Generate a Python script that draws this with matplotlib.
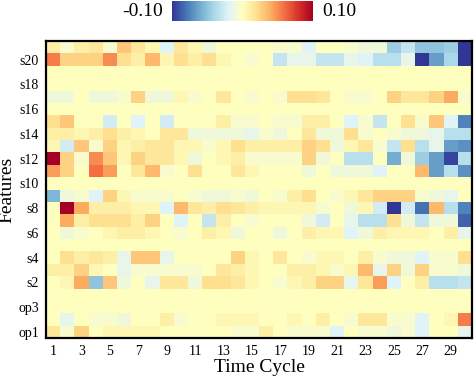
import matplotlib
matplotlib.use("Agg")
import matplotlib.pyplot as plt
import numpy as np

plt.rcParams["font.family"] = ["Liberation Serif", "DejaVu Serif"]

features = ["op1", "op2", "op3"] + ["s%d" % i for i in range(1, 22)]
cycles = list(range(1, 31))

op1 = [0.015, -0.005, 0.025, 0, 0.005, 0.005, 0.005, 0.005, 0, 0, 0, 0, 0, -0.005, -0.005,
       0.01, 0, -0.005, -0.005, -0.005, -0.02, 0, -0.005, -0.005, -0.01, -0.005, -0.02, 0, 0, -0.015]
op2 = [0, -0.015, 0, -0.005, -0.005, -0.01, 0, 0, 0.01, -0.005, 0, 0, 0.005, 0.005, 0.005,
       0, 0, 0.005, 0, 0.01, 0, -0.005, 0.015, 0.015, -0.005, -0.005, -0.02, 0, 0.005, 0.055]
op3 = [0] * 30
s1 = [0] * 30
s2 = [0, 0.005, 0.04, -0.05, 0.03, -0.01, 0, -0.015, 0.015, 0.015, -0.01, 0.02, 0.02, 0.015, 0.005,
      0, -0.005, 0.005, 0.01, 0.025, 0.025, -0.015, 0.015, 0.045, -0.02, 0, 0.01, -0.035, -0.035, -0.03]
s3 = [0.01, 0.01, 0.025, 0.005, 0, -0.015, -0.005, -0.005, -0.005, -0.005, -0.005, 0, 0.015, 0.01, 0.005,
      0, 0, 0.01, 0.01, 0.005, -0.005, 0.005, 0.035, -0.015, 0.025, -0.01, 0.025, -0.005, -0.005, -0.01]
s4 = [0, 0.02, 0.01, 0.015, 0.01, -0.015, 0.03, 0.03, -0.015, 0, 0, 0, 0, 0.025, 0.005,
      0, 0.015, 0, -0.005, 0.005, 0.005, 0, 0.01, -0.005, -0.01, -0.01, -0.02, -0.005, -0.005, 0.02]
s5 = [0] * 30
s6 = [0, -0.01, -0.005, 0, 0.005, 0.01, 0.01, 0.005, 0, -0.005, 0, 0.01, 0.005, -0.01, 0,
      0, -0.01, 0, 0.01, 0.005, 0.005, -0.02, -0.01, 0.01, 0.005, 0.005, 0.005, 0, 0.01, -0.015]
s7 = [0, 0.04, 0.01, 0.02, 0.02, 0.02, 0.01, 0.025, 0, -0.02, 0, -0.03, 0.01, 0, -0.005,
      0, 0, 0, -0.01, -0.025, 0, -0.015, -0.035, -0.035, 0.02, -0.01, -0.03, -0.01, -0.01, -0.085]
s8 = [0, 0.1, 0.04, 0.01, 0.01, 0.01, 0.005, 0.005, -0.02, 0.035, 0.015, 0.01, 0.02, 0.015, 0.01,
      0.005, 0.005, 0.005, 0.005, -0.005, 0, -0.01, 0.005, -0.025, -0.1, -0.025, -0.08, 0.035, -0.035, -0.075]
s9 = [-0.055, -0.01, -0.005, -0.02, 0.025, 0.005, -0.005, -0.005, -0.005, 0, -0.005, -0.01, -0.01, -0.005, -0.01,
      0, -0.005, 0.01, 0.02, 0, -0.005, 0.005, 0.015, 0.025, 0.025, 0.025, -0.005, -0.01, -0.015, 0]
s10 = [0] * 30
s11 = [0.045, 0.025, 0, 0.06, 0.045, 0, 0.015, 0.035, -0.005, 0, 0.02, 0, 0, 0.015, 0.005,
       0, 0, 0, -0.01, 0, -0.01, -0.01, -0.01, -0.02, 0, 0, 0.035, -0.065, -0.035, -0.07]
s12 = [0.1, 0.025, -0.005, 0.05, 0.03, 0.005, 0.025, 0.015, 0.015, 0.005, -0.01, 0, 0.005, 0.01, -0.005,
       -0.005, -0.005, -0.005, 0.025, -0.01, 0, -0.035, -0.035, 0, -0.06, -0.01, -0.045, -0.065, -0.095, -0.035]
s13 = [0.005, -0.025, 0.03, -0.005, 0.025, 0.005, 0.01, 0.015, 0.015, 0.005, 0.005, -0.005, 0.005, 0.02, 0.01,
       0.01, 0.01, 0.01, 0.025, 0.02, -0.01, 0.005, 0.015, -0.005, -0.03, 0.02, -0.035, -0.015, -0.065, -0.07]
s14 = [0.01, 0.01, 0.005, 0.01, 0.02, 0.01, 0.005, 0, 0.015, 0.015, -0.01, -0.01, -0.01, -0.01, -0.015,
       -0.005, -0.01, 0, 0.015, -0.01, -0.01, 0.02, -0.005, 0, -0.005, -0.01, -0.01, -0.015, -0.035, -0.035]
s15 = [0.02, 0.03, 0, 0, -0.025, 0, -0.02, 0, -0.025, 0, 0, 0, 0.01, -0.005, -0.005,
       0, -0.005, -0.005, 0.01, 0.01, 0, -0.02, -0.005, -0.03, 0, 0.02, -0.005, 0.03, -0.02, -0.075]
s16 = [0] * 30
s17 = [-0.01, -0.01, 0, -0.01, -0.01, -0.005, 0.025, -0.01, -0.01, 0.005, -0.005, 0, 0.015, 0, -0.005,
       0, -0.005, 0.02, 0.02, 0.015, 0, -0.005, -0.005, 0, 0.025, 0.015, 0.015, 0.025, 0.04, -0.005]
s18 = [0] * 30
s19 = [0] * 30
s20 = [0.055, 0.025, 0.025, 0.025, 0.05, 0.02, 0.01, 0.035, 0.005, 0.02, 0.01, 0.02, 0.005, 0, -0.005,
       0, -0.03, -0.015, -0.015, -0.03, -0.03, -0.015, -0.02, -0.035, -0.035, -0.015, -0.1, -0.065, -0.04, -0.1]
s21 = [0.01, -0.005, 0.01, 0.015, -0.005, 0.03, 0.015, 0.005, -0.02, 0.015, 0.005, -0.01, 0, 0, 0,
       0, -0.005, -0.005, -0.02, 0, 0, -0.005, -0.01, -0.01, -0.045, -0.03, -0.05, -0.05, -0.045, -0.1]

rows = [op1, op2, op3, s1, s2, s3, s4, s5, s6, s7, s8, s9, s10,
        s11, s12, s13, s14, s15, s16, s17, s18, s19, s20, s21]
data = np.array(rows)

fig = plt.figure(figsize=(4.74, 3.86), dpi=100)
ax = fig.add_axes([46 / 474, 1 - 338 / 386, 426 / 474, 297 / 386])
im = ax.imshow(data, cmap="RdYlBu_r", vmin=-0.1, vmax=0.1, aspect="auto",
               origin="lower", interpolation="nearest")

ax.set_xticks(range(0, 30, 2))
ax.set_xticklabels([str(c) for c in cycles[::2]], fontsize=10)
ax.set_yticks(range(0, 24, 2))
ax.set_yticklabels(features[::2], fontsize=10)
ax.tick_params(length=0, pad=5)
for sp in ax.spines.values():
    sp.set_linewidth(1.6)

ax.set_xlabel("Time Cycle", fontsize=14, labelpad=1)
ax.set_ylabel("Features", fontsize=14, labelpad=2)

cax = fig.add_axes([172 / 474, 1 - 21 / 386, 141 / 474, 20 / 386])
cb = fig.colorbar(im, cax=cax, orientation="horizontal")
cb.outline.set_visible(False)
cb.set_ticks([])
fig.text(163 / 474, 1 - 12 / 386, "-0.10", ha="right", va="center", fontsize=14)
fig.text(322 / 474, 1 - 12 / 386, "0.10", ha="left", va="center", fontsize=14)

fig.savefig("out.png", dpi=100)
